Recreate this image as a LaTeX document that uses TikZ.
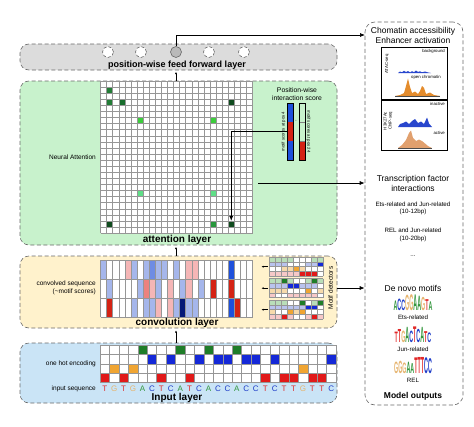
\documentclass[tikz,border=0pt]{standalone}
\usepackage{fontspec}
\usepackage{graphicx}
\setmainfont{Liberation Sans}
\usetikzlibrary{arrows.meta,calc}
\definecolor{ffgray}{RGB}{220,220,220}
\definecolor{attgreen}{RGB}{200,242,204}
\definecolor{convyel}{RGB}{255,242,204}
\definecolor{inblue}{RGB}{202,228,246}
\definecolor{bordergray}{RGB}{105,105,105}
\definecolor{gridgray}{RGB}{150,150,150}
\definecolor{cA}{RGB}{30,125,40}
\definecolor{cC}{RGB}{20,40,215}
\definecolor{cG}{RGB}{240,165,50}
\definecolor{cT}{RGB}{225,25,25}
\definecolor{lA}{RGB}{50,150,60}
\definecolor{lC}{RGB}{30,60,200}
\definecolor{lG}{RGB}{230,180,110}
\definecolor{lT}{RGB}{225,40,40}
\definecolor{dgA}{RGB}{25,110,45}
\definecolor{dgB}{RGB}{35,125,55}
\definecolor{dgC}{RGB}{15,75,30}
\definecolor{bgr}{RGB}{60,205,60}
\definecolor{lgr}{RGB}{95,222,135}
\definecolor{mgr}{RGB}{40,150,60}
\definecolor{lb}{RGB}{165,182,235}
\definecolor{mb}{RGB}{110,140,228}
\definecolor{pk}{RGB}{245,182,182}
\definecolor{dpk}{RGB}{235,130,125}
\definecolor{bl}{RGB}{30,80,220}
\definecolor{dbl}{RGB}{5,25,120}
\definecolor{rd}{RGB}{212,35,20}
\definecolor{pgA}{RGB}{185,222,185}
\definecolor{pbC}{RGB}{185,195,238}
\definecolor{poG}{RGB}{246,218,172}
\definecolor{ppT}{RGB}{246,200,200}
\definecolor{sigblue}{RGB}{40,70,205}
\definecolor{sigor}{RGB}{228,140,45}
\definecolor{sigor2}{RGB}{225,160,110}
\newcommand{\lgl}[3]{\textcolor{#1}{\scalebox{0.85}[#3]{#2}}}
\tikzset{
  layerbox/.style={draw=bordergray, dash pattern=on 4pt off 2.5pt, rounded corners=9pt, line width=0.6pt, inner sep=0pt},
  ttl/.style={font=\fontsize{10}{12}\selectfont\bfseries, inner sep=0pt},
  lbl/.style={font=\fontsize{6.5}{7.5}\selectfont, inner sep=0pt},
  tiny/.style={font=\fontsize{4.3}{5}\selectfont, inner sep=0pt},
  outtxt/.style={font=\fontsize{8.5}{10}\selectfont, inner sep=0pt},
  small/.style={font=\fontsize{6.2}{7.5}\selectfont, inner sep=0pt},
  logo/.style={inner sep=0pt, anchor=base, font=\fontsize{6.3}{6.3}\selectfont\bfseries},
  gridline/.style={draw=gridgray, line width=0.35pt},
  seqletter/.style={font=\fontsize{8}{9}\selectfont, inner sep=0pt},
  neuron/.style={circle, minimum size=11pt, inner sep=0pt, draw=bordergray, line width=0.6pt},
  arr/.style={-{Latex[length=5pt,width=4pt]}, line width=0.7pt},
  smallarr/.style={-{Latex[length=2.2pt,width=2pt]}, line width=0.5pt},
}
\begin{document}
\begin{tikzpicture}[x=1pt,y=-1pt]
\useasboundingbox (0,0) rectangle (474,426);
\fill[white] (0,0) rectangle (474,426);

% ---------- layer boxes
\node[layerbox, fill=ffgray, minimum width=317pt, minimum height=26pt] (ff) at (178.5,57) {};
\node[layerbox, fill=attgreen, minimum width=317pt, minimum height=164pt] (att) at (178.5,163) {};
\node[layerbox, fill=convyel, minimum width=317pt, minimum height=72pt] (conv) at (178.5,292) {};
\node[layerbox, fill=inblue, minimum width=317pt, minimum height=60pt] (inp) at (178.5,373) {};
\node[layerbox, fill=white, rounded corners=10pt, minimum width=98pt, minimum height=383pt] (out) at (414,213.5) {};

% ---------- feed forward
\node[neuron, fill=white, dash pattern=on 3pt off 2pt] (c1) at (108,52) {};
\node[neuron, fill=white, dash pattern=on 3pt off 2pt] (c2) at (141,52) {};
\node[neuron, fill={rgb,255:red,185;green,185;blue,185}] (c3) at (176,52) {};
\node[neuron, fill=white, dash pattern=on 3pt off 2pt] (c4) at (209,52) {};
\node[neuron, fill=white, dash pattern=on 3pt off 2pt] (c5) at (244,52) {};
\node[ttl, font=\fontsize{9}{11}\selectfont\bfseries] (fflabel) at (177,65.5) {position-wise feed forward layer};

% ---------- attention grid
\fill[white] (100.5,81) rectangle (252.5,233);
\foreach \c/\r/\cl in {1/1/dgB,1/3/dgB,3/3/dgA,21/3/dgC,6/6/bgr,18/6/bgr,6/18/lgr,18/18/lgr,1/23/dgC,18/23/mgr,21/23/dgC}{
  \fill[\cl] (100.5+\c*6.08, 81+\r*6.08) rectangle ++(6.08,6.08);
}
\foreach \i in {0,...,25}{
  \draw[gridline] (100.5+\i*6.08,81) -- ++(0,152);
  \draw[gridline] (100.5,81+\i*6.08) -- ++(152,0);
}
\coordinate (tgt) at (100.5+21.5*6.08, 81+23*6.08);
\node[lbl, anchor=east] (natt) at (96,157) {Neural Attention};
\node[ttl] (attlabel) at (177,239.5) {attention layer};

% interaction score
\node[lbl, align=center, font=\fontsize{6.8}{8}\selectfont] (pws) at (297,94) {Position-wise\\interaction score};
\node[draw=black, line width=0.4pt, minimum width=6pt, minimum height=57pt, inner sep=0pt] (bar1) at (290,131.5) {};
\fill[bl] (287,103) rectangle (293,122);
\fill[rd] (287,122) rectangle (293,141);
\fill[bl] (287,141) rectangle (293,160);
\draw[line width=0.4pt] (287,103) rectangle (293,160);
\node[draw=black, line width=0.4pt, minimum width=6pt, minimum height=57pt, inner sep=0pt] (bar2) at (302,131.5) {};
\fill[rd] (299,141) rectangle (305,160);
\draw[gray, line width=0.3pt] (299,122) -- (305,122) (299,141) -- (305,141);
\draw[line width=0.4pt] (299,103) rectangle (305,160);
\node[inner sep=0pt, font=\fontsize{7}{7}\selectfont\bfseries] (dot) at (296,121) {$\cdot$};
\node[tiny, rotate=90] (p4) at (283.5,131.5) {motif scores at pos 4};
\node[tiny, rotate=-90] (p24) at (308.5,131.5) {motif scores at pos 24};
\draw[arr] (bar1.west) -| (tgt);

% ---------- convolution grid
\fill[white] (100.5,260) rectangle (252.5,317);
\foreach \c/\r/\cl in {0/0/lb,4/0/pk,5/0/lb,7/0/lb,8/0/mb,9/0/lb,10/0/lb,12/0/lb,14/0/pk,15/0/pk,21/0/bl,
  1/1/lb,6/1/lb,7/1/dpk,8/1/pk,9/1/lb,11/1/pk,13/1/lb,14/1/pk,16/1/lb,18/1/rd,21/1/rd,
  1/2/rd,5/2/lb,7/2/lb,8/2/lb,9/2/pk,11/2/pk,12/2/lb,13/2/dbl,14/2/lb,15/2/lb,21/2/bl,22/2/rd}{
  \fill[\cl] (100.5+\c*6.08, 260+\r*19) rectangle ++(6.08,19);
}
\foreach \i in {0,...,25}{ \draw[gridline] (100.5+\i*6.08,260) -- ++(0,57); }
\foreach \i in {0,...,3}{ \draw[gridline] (100.5,260+\i*19) -- ++(152,0); }
\node[lbl, anchor=east, align=right] (cvs) at (96,288) {convolved sequence\\(\textasciitilde motif scores)};
\node[ttl] (convlabel) at (177,322.5) {convolution layer};

% motif detectors
\foreach \g/\y in {1/257,2/278.5,3/300}{
  \foreach \c in {0,...,8}{
    \fill[pgA] (269+\c*6, \y) rectangle ++(6,4.75);
    \fill[pbC] (269+\c*6, \y+4.75) rectangle ++(6,4.75);
    \fill[poG] (269+\c*6, \y+9.5) rectangle ++(6,4.75);
    \fill[ppT] (269+\c*6, \y+14.25) rectangle ++(6,4.75);
  }
  \node[inner sep=0pt, minimum width=54pt, minimum height=19pt, anchor=north west] (md\g) at (269,\y) {};
}
\foreach \c/\r/\cl in {4/0/white,5/0/white,6/0/white,3/1/white,4/1/white,5/1/white,0/2/white,1/2/white,6/2/white,7/2/white,8/2/white,8/3/white,
  8/1/cC,5/3/cT,6/3/cT,7/3/cT,4/2/cG}{
  \fill[\cl] (269+\c*6, 257+\r*4.75) rectangle ++(6,4.75);
}
\foreach \c/\r/\cl in {4/0/white,5/0/white,3/2/white,4/2/white,5/2/white,7/2/white,8/1/white,1/3/white,2/3/white,8/3/white,
  2/0/cA,7/0/cA,3/1/cC,4/1/cC,6/2/cG}{
  \fill[\cl] (269+\c*6, 278.5+\r*4.75) rectangle ++(6,4.75);
}
\foreach \c/\r/\cl in {3/0/white,4/0/white,6/0/white,8/1/white,1/2/white,2/2/white,6/2/white,7/2/white,8/2/white,4/3/white,5/3/white,
  5/0/cA,8/0/cA,6/1/cC,7/1/cC,3/2/cG,5/2/cG,2/3/cT,7/3/cT}{
  \fill[\cl] (269+\c*6, 300+\r*4.75) rectangle ++(6,4.75);
}
\foreach \y in {257,278.5,300}{
  \foreach \c in {0,...,9}{ \draw[gridline, line width=0.3pt] (269+\c*6,\y) -- ++(0,19); }
  \foreach \r in {0,...,4}{ \draw[gridline, line width=0.3pt] (269,\y+\r*4.75) -- ++(54,0); }
}
\foreach \g in {1,2,3}{ \draw[smallarr] ($(md\g.west)+(-1.5,0)$) -- ++(-6,0); }
\node[lbl, rotate=90] (mdlabel) at (330.5,288) {Motif detectors};

% ---------- input layer
\fill[white] (100,345) rectangle (336,382.6);
\foreach \L/\r/\cc/\lc [count=\i from 0] in {T/3/cT/lT,G/2/cG/lG,T/3/cT/lT,G/2/cG/lG,A/0/cA/lA,C/1/cC/lC,T/3/cT/lT,C/1/cC/lC,A/0/cA/lA,T/3/cT/lT,C/1/cC/lC,A/0/cA/lA,C/1/cC/lC,C/1/cC/lC,A/0/cA/lA,C/1/cC/lC,C/1/cC/lC,T/3/cT/lT,C/1/cC/lC,T/3/cT/lT,T/3/cT/lT,G/2/cG/lG,T/3/cT/lT,T/3/cT/lT,C/1/cC/lC}{
  \fill[\cc] (100+\i*9.44, 345+\r*9.4) rectangle ++(9.44,9.4);
  \node[seqletter, text=\lc] (s\i) at (100+\i*9.44+4.72, 388.5) {\L};
}
\foreach \i in {0,...,25}{ \draw[gridline] (100+\i*9.44,345) -- ++(0,37.6); }
\foreach \i in {0,...,4}{ \draw[gridline] (100,345+\i*9.4) -- ++(236,0); }
\node[lbl, anchor=east] (ohe) at (96,364) {one hot encoding};
\node[lbl, anchor=east] (iseq) at (96,388.5) {input sequence};
\node[ttl] (inlabel) at (177,398) {Input layer};

% ---------- vertical small arrows
\draw[smallarr] (inp.north -| c3) -- ($(conv.south -| c3)+(0,2)$);
\draw[smallarr] (conv.north -| c3) -- ($(att.south -| c3)+(0,1.5)$);
\draw[smallarr] (att.north -| c3) -- ($(ff.south -| c3)+(0,1.5)$);

% ---------- connectors to outputs
\coordinate (ffout) at (365,35);
\draw[arr] (c3.north) |- (ffout);
\coordinate (attout) at (258,183);
\draw[arr] (attout) -- (attout -| out.west);
\coordinate (convout) at (337,288);
\draw[arr] (convout) -- (convout -| out.west);

% ---------- model outputs
\node[outtxt, align=center] (chrom) at (413,35) {Chomatin accessibility\\Enhancer activation};
% panel 1
\node[draw=black, line width=0.9pt, minimum width=66pt, minimum height=52pt, inner sep=0pt] (pan1) at (414,73) {};
\node[tiny, anchor=north east] (bg) at (445,49) {background};
\node[tiny, rotate=90] (atac) at (387,64) {ATAC-seq};
\fill[sigblue] (398,73) -- (400,71.5) -- (402,72.3) -- (404,70.8) -- (406,72) -- (408,71) -- (410,72.4) -- (412,71.2) -- (414,72.2) -- (416,70.5) -- (418,72) -- (420,71.3) -- (422,72.3) -- (425,71.5) -- (428,72.4) -- (431,73) -- cycle;
\node[tiny] (openc) at (426,77.5) {open chromatin};
\fill[sigor] (395,96) -- (400,95) -- (404,93) -- (406,86) -- (408,78.5) -- (410,87) -- (412,93) -- (415,91.5) -- (418,94) -- (420,91) -- (422,86) -- (424,88) -- (426,94) -- (430,92.5) -- (434,95) -- (440,96) -- cycle;
\draw[black!70, line width=0.5pt] (395,96) -- (440,96);
% panel 2
\node[draw=black, line width=0.9pt, minimum width=66pt, minimum height=50pt, inner sep=0pt] (pan2) at (414,125) {};
\node[tiny, anchor=north east] (inact) at (445,102) {inactive};
\node[tiny, rotate=90, align=center] (chip) at (388,121) {H3K27Ac\\ChIP-seq};
\fill[sigblue] (398,127) -- (400,124) -- (403,123) -- (406,121.5) -- (409,124) -- (412,121) -- (415,119) -- (418,123) -- (421,121.5) -- (424,124) -- (427,117.5) -- (429,123.5) -- (432,127) -- cycle;
\node[tiny, anchor=east] (actv) at (445,133) {active};
\fill[sigor2] (398,148) -- (402,145) -- (406,140) -- (409,133) -- (411,130.5) -- (413,138) -- (416,141) -- (419,139.5) -- (422,141) -- (425,143.5) -- (428,146) -- (432,148) -- cycle;
\draw[black!70, line width=0.5pt] (398,148) -- (432,148);

\node[outtxt, align=center] (tfi) at (413,183.5) {Transcription factor\\interactions};
\node[small, align=center] (ets) at (413,208.5) {Ets-related and Jun-related\\(10-12bp)};
\node[small, align=center] (rel) at (413,235) {REL and Jun-related\\(10-20bp)};
\node[small] (dots) at (413,256) {...};
\node[outtxt] (dnm) at (413,288) {De novo motifs};

\node[logo] (logo1) at (413,310.5)
 {\lgl{lA}{A}{2.2}\lgl{lC}{C}{2.6}\lgl{lC}{C}{2.4}\lgl{lG}{G}{3.5}\lgl{lG}{G}{3.6}\lgl{lA}{A}{3.6}\lgl{lA}{A}{3.3}\lgl{lG}{G}{3.0}\lgl{lT}{T}{2.5}\lgl{lA}{A}{2.0}};
\node[small] (l1) at (413,317) {Ets-related};
\node[logo] (logo2) at (413,342.5)
 {\lgl{lT}{T}{2.4}\lgl{lT}{T}{3.0}\lgl{lG}{G}{2.6}\lgl{lA}{A}{3.5}\lgl{lC}{C}{2.6}\lgl{lT}{T}{3.6}\lgl{lC}{C}{3.0}\lgl{lA}{A}{3.5}\lgl{lT}{T}{2.5}\lgl{lC}{C}{2.2}};
\node[small] (l2) at (413,349.5) {Jun-related};
\node[logo] (logo3) at (413,373.5)
 {\lgl{lG}{G}{2.6}\lgl{lG}{G}{2.8}\lgl{lG}{G}{2.4}\lgl{lA}{A}{2.6}\lgl{lA}{A}{2.3}\lgl{lT}{T}{3.6}\lgl{lT}{T}{3.7}\lgl{lT}{T}{3.7}\lgl{lC}{C}{3.6}\lgl{lC}{C}{3.4}};
\node[small] (l3) at (413,380.5) {REL};
\node[outtxt, font=\fontsize{8.5}{10}\selectfont\bfseries] (mo) at (413,396) {Model outputs};
\end{tikzpicture}
\end{document}
